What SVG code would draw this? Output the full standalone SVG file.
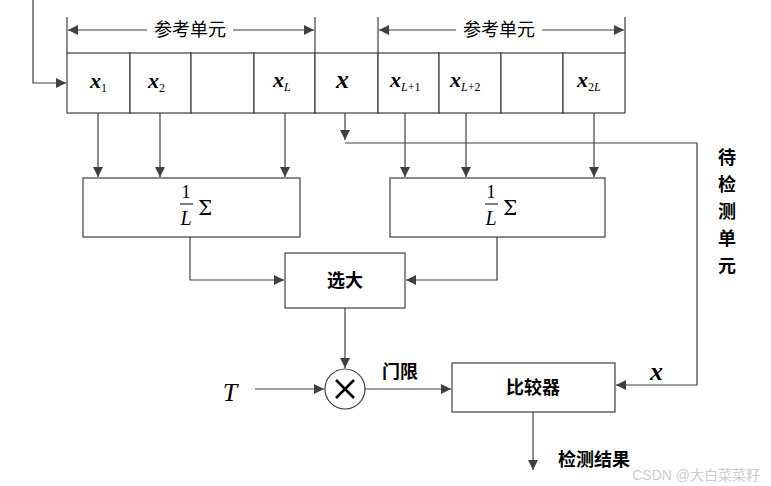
<svg xmlns="http://www.w3.org/2000/svg" width="771" height="486" viewBox="0 0 771 486">
<defs>
<marker id="ar" viewBox="0 0 10 10" refX="10" refY="5" markerWidth="10" markerHeight="10" markerUnits="userSpaceOnUse" orient="auto"><path d="M0,0 L10,5 L0,10 z" fill="#404040"/></marker>
</defs>
<style>
.b{fill:#fff;stroke:#404040;stroke-width:1.2}
.l{fill:none;stroke:#404040;stroke-width:1.2}
.cn{font-family:"Noto Sans CJK SC",sans-serif;font-size:18px;fill:#000;text-anchor:middle}
.cb{font-family:"Noto Sans CJK SC",sans-serif;font-size:18px;font-weight:bold;fill:#000;text-anchor:middle}
.m{font-family:"Liberation Serif",serif;font-style:italic;font-weight:bold;fill:#000}
.s{font-size:12px;font-weight:normal;font-style:normal}
.si{font-size:12px;font-weight:normal;font-style:italic}
</style>
<rect width="771" height="486" fill="#fff"/>
<g id="connectors">
<path class="l" d="M33,0 V83 H66" marker-end="url(#ar)"/>
<path class="l" d="M67,17 V53 M315,17 V53 M378,17 V53 M625,17 V53"/>
<path class="l" d="M147,30 H68" marker-end="url(#ar)"/><path class="l" d="M233,30 H314" marker-end="url(#ar)"/>
<path class="l" d="M456,30 H379" marker-end="url(#ar)"/><path class="l" d="M542,30 H624" marker-end="url(#ar)"/>
<path class="l" d="M98,113 V177" marker-end="url(#ar)"/>
<path class="l" d="M160,113 V177" marker-end="url(#ar)"/>
<path class="l" d="M285,113 V177" marker-end="url(#ar)"/>
<path class="l" d="M405,113 V177" marker-end="url(#ar)"/>
<path class="l" d="M466,113 V177" marker-end="url(#ar)"/>
<path class="l" d="M594,113 V177" marker-end="url(#ar)"/>
<path class="l" d="M345,113 V140" marker-end="url(#ar)"/>
<path class="l" d="M345,143 H697 V385 H616" marker-end="url(#ar)"/>
<path class="l" d="M190,237 V280 H284" marker-end="url(#ar)"/>
<path class="l" d="M497,237 V280 H406" marker-end="url(#ar)"/>
<path class="l" d="M345,308 V368" marker-end="url(#ar)"/>
<path class="l" d="M255,389 H324" marker-end="url(#ar)"/>
<path class="l" d="M365,389 H451" marker-end="url(#ar)"/>
<path class="l" d="M533,412 V470" marker-end="url(#ar)"/>
</g>
<g id="labels">
<text class="cn" x="190" y="36">参考单元</text>
<text class="cn" x="499" y="36">参考单元</text>
<text class="cb" x="400" y="378">门限</text>
<text class="m" x="650" y="380" font-size="26">x</text>
<text x="230" y="401" font-family="Liberation Serif,serif" font-style="italic" font-size="26" fill="#000" text-anchor="middle">T</text>
<g class="cb"><text x="727" y="164">待</text><text x="727" y="191">检</text><text x="727" y="218">测</text><text x="727" y="245">单</text><text x="727" y="272">元</text></g>
<text class="cb" x="594" y="466">检测结果</text>
<text x="760" y="480" font-family="Liberation Sans,sans-serif" font-size="14" fill="#cccccc" text-anchor="end">CSDN @<tspan font-family="Noto Sans CJK SC,sans-serif">大白菜菜籽</tspan></text>
</g>
<g id="cells">
<rect class="b" x="67" y="53" width="63" height="60"/><rect class="b" x="130" y="53" width="61" height="60"/>
<rect class="b" x="191" y="53" width="63" height="60"/><rect class="b" x="254" y="53" width="61" height="60"/>
<rect class="b" x="315" y="53" width="63" height="60"/><rect class="b" x="378" y="53" width="61" height="60"/>
<rect class="b" x="439" y="53" width="62" height="60"/><rect class="b" x="501" y="53" width="62" height="60"/>
<rect class="b" x="563" y="53" width="62" height="60"/>
<text class="m" x="90" y="88" font-size="22">x<tspan class="s" dy="4">1</tspan></text>
<text class="m" x="148" y="88" font-size="22">x<tspan class="s" dy="4">2</tspan></text>
<text class="m" x="273" y="87" font-size="22">x<tspan class="si" dy="4">L</tspan></text>
<text class="m" x="336" y="88" font-size="26">x</text>
<text class="m" x="390" y="87" font-size="22">x<tspan class="si" dy="4">L</tspan><tspan class="s">+1</tspan></text>
<text class="m" x="450" y="87" font-size="22">x<tspan class="si" dy="4">L</tspan><tspan class="s">+2</tspan></text>
<text class="m" x="577" y="87" font-size="22">x<tspan class="s" dy="4">2</tspan><tspan class="si">L</tspan></text>
</g>
<g id="avg1">
<rect class="b" x="83" y="178" width="217" height="59"/>
<text x="186" y="198" font-family="Liberation Serif,serif" font-size="18" text-anchor="middle">1</text>
<line x1="180" y1="204" x2="193" y2="204" stroke="#000"/>
<text x="186" y="225" font-family="Liberation Serif,serif" font-style="italic" font-size="20" text-anchor="middle">L</text>
<text x="205" y="215" font-family="DejaVu Serif,serif" font-size="20" text-anchor="middle">Σ</text>
</g>
<g id="avg2">
<rect class="b" x="390" y="178" width="215" height="59"/>
<text x="491" y="198" font-family="Liberation Serif,serif" font-size="18" text-anchor="middle">1</text>
<line x1="485" y1="204" x2="498" y2="204" stroke="#000"/>
<text x="491" y="225" font-family="Liberation Serif,serif" font-style="italic" font-size="20" text-anchor="middle">L</text>
<text x="510" y="215" font-family="DejaVu Serif,serif" font-size="20" text-anchor="middle">Σ</text>
</g>
<g id="select"><rect class="b" x="285" y="253" width="120" height="55"/><text class="cb" x="345" y="287">选大</text></g>
<g id="mult"><circle class="b" cx="345" cy="389" r="20"/><path d="M336,380 L354,398 M354,380 L336,398" stroke="#000" stroke-width="2.5"/></g>
<g id="compare"><rect class="b" x="452" y="363" width="163" height="49"/><text class="cb" x="533" y="394">比较器</text></g>
</svg>
